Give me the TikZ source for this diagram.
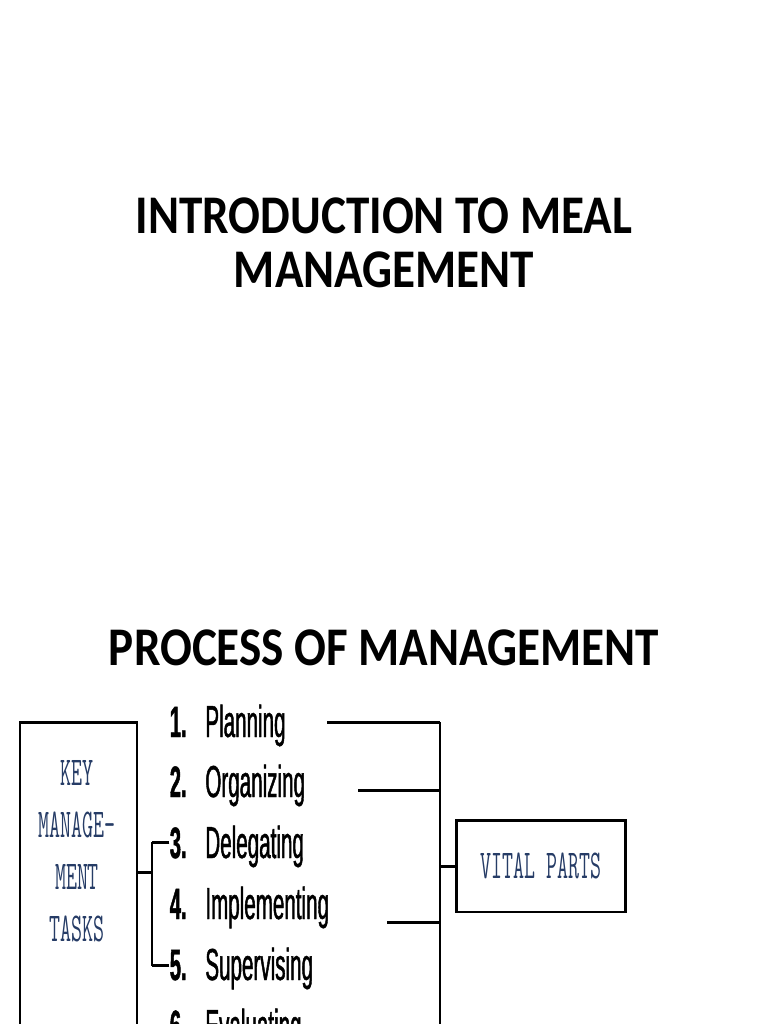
\documentclass[tikz,border=0pt]{standalone}
\usepackage{fontspec}
\usepackage{xcolor}
\setmainfont[FakeStretch=0.865]{Carlito}
\newfontfamily\itemfont[FakeStretch=0.46,FakeBold=1]{Liberation Sans}
\newfontfamily\boxfont[FakeStretch=0.52]{Latin Modern Mono}
\definecolor{boxblue}{RGB}{38,60,102}
\tikzset{
  headline/.style={font=\fontsize{31}{37}\selectfont\bfseries, anchor=base},
  num/.style={font=\itemfont\bfseries\fontsize{25}{30}\selectfont, anchor=base east, inner sep=0pt},
  task/.style={font=\itemfont\fontsize{25.5}{30}\selectfont, anchor=base west, inner sep=0pt},
  boxtext/.style={font=\boxfont\fontsize{23.3}{29.6}\selectfont, text=boxblue, align=center},
  heavy/.style={line width=1.7pt},
  light/.style={line width=1.1pt},
}

\begin{document}
\begin{tikzpicture}[x=0.02cm,y=-0.02cm]
\useasboundingbox (0,0) rectangle (768,1024);
\clip (0,0) rectangle (768,1024);

\node[headline] (intro) at (384,233) {INTRODUCTION TO MEAL};
\node[headline] (meal) at (384,287) {MANAGEMENT};
\node[headline] (proc) at (384,665) {PROCESS OF MANAGEMENT};

% the six tasks
\foreach \n/\t/\y in {1/Planning/737,2/Organizing/797,3/Delegating/858,
  4/Implementing/919,5/Supervising/980,6/Evaluating/1041}{
  \node[num] (n\n) at (187,\y) {\n.};
  \node[task] (t\n) at (205,\y) {\t};
}

% left box
\node[draw,light,minimum width=2.34cm,minimum height=8cm,anchor=north] (key) at (78.5,722) {};
\draw[heavy] (key.north west) -- (key.north east);
\node[boxtext] (keytxt) at (77,851) {KEY\\MANAGE-\\MENT\\TASKS};

\coordinate (fork) at (152,872);
\draw[heavy] (fork -| key.east) -- (fork);
\draw[light] (n3.west) -| (fork) |- (n5.west);
\draw[heavy] (n3.west) -- (n3.west -| fork);
\draw[heavy] (n5.west) -- (n5.west -| fork);

% right side
\coordinate (bustop) at (440,722);
\coordinate (busend) at (440,1030);
\draw[light] (bustop) -- (busend);
\coordinate (e1) at (327,722);
\coordinate (e2) at (358,790);
\coordinate (e4) at (387,922);
\draw[heavy] (e1) -- (bustop);
\draw[heavy] (e2) -- (e2 -| bustop);
\draw[heavy] (e4) -- (e4 -| bustop);

\node[draw,heavy,boxtext,minimum width=3.4cm,minimum height=1.84cm] (vital) at (541,866) {VITAL PARTS};
\draw[heavy] (vital.west) -- (vital.west -| bustop);
\end{tikzpicture}
\end{document}
